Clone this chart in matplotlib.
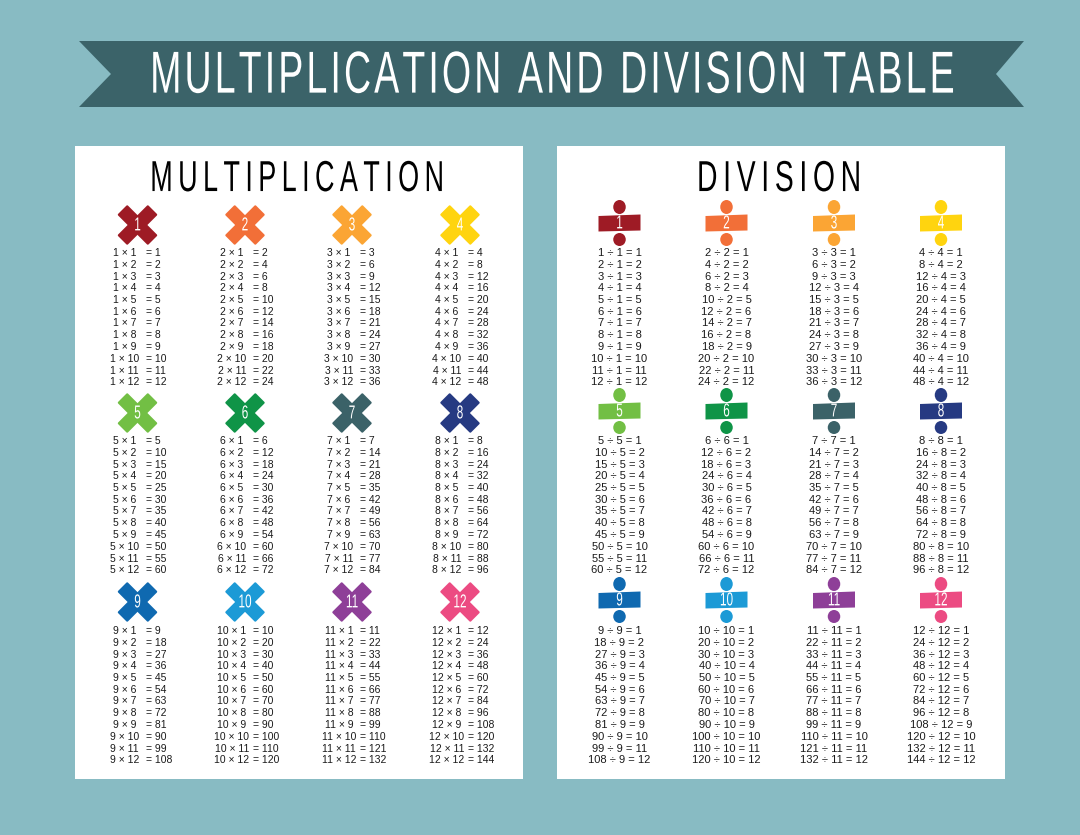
#!/usr/bin/env python3
import matplotlib
matplotlib.use('Agg')
import matplotlib.pyplot as plt
from matplotlib.patches import Polygon, Rectangle, Ellipse
from matplotlib.patheffects import AbstractPathEffect
from matplotlib.transforms import Affine2D

# ── Data ──────────────────────────────────────────────
page_title = "MULTIPLICATION AND DIVISION TABLE"
left_title = "MULTIPLICATION"
right_title = "DIVISION"

bases = [1, 2, 3, 4, 5, 6, 7, 8, 9, 10, 11, 12]
factors = [1, 2, 3, 4, 5, 6, 7, 8, 9, 10, 11, 12]
base_colors = ["#9E1B25", "#F26F38", "#FBA534", "#FFD40F",
               "#72BF44", "#0F9447", "#3B6268", "#263A82",
               "#0F69B0", "#1C9AD6", "#8E3F98", "#EC4B82"]
products = [
    [1, 2, 3, 4, 5, 6, 7, 8, 9, 10, 11, 12],
    [2, 4, 6, 8, 10, 12, 14, 16, 18, 20, 22, 24],
    [3, 6, 9, 12, 15, 18, 21, 24, 27, 30, 33, 36],
    [4, 8, 12, 16, 20, 24, 28, 32, 36, 40, 44, 48],
    [5, 10, 15, 20, 25, 30, 35, 40, 45, 50, 55, 60],
    [6, 12, 18, 24, 30, 36, 42, 48, 54, 60, 66, 72],
    [7, 14, 21, 28, 35, 42, 49, 56, 63, 70, 77, 84],
    [8, 16, 24, 32, 40, 48, 56, 64, 72, 80, 88, 96],
    [9, 18, 27, 36, 45, 54, 63, 72, 81, 90, 99, 108],
    [10, 20, 30, 40, 50, 60, 70, 80, 90, 100, 110, 120],
    [11, 22, 33, 44, 55, 66, 77, 88, 99, 110, 121, 132],
    [12, 24, 36, 48, 60, 72, 84, 96, 108, 120, 132, 144],
]

# ── Style ─────────────────────────────────────────────
BG = "#88BBC3"
BANNER = "#3B6369"
INK = "#1A1A1A"
plt.rcParams["font.family"] = ["Liberation Sans", "DejaVu Sans"]

# pixel layout
left_cols = [137.5, 245, 352, 460]
right_cols = [619.5, 726.5, 834, 941]
icon_rows = [225, 413, 602]
first_rows = [253, 441, 631]
ROW_STEP = 11.75

fig = plt.figure(figsize=(10.8, 8.35), dpi=100, facecolor=BG)
ax = fig.add_axes([0, 0, 1, 1])
ax.set_xlim(0, 1080)
ax.set_ylim(835, 0)
ax.axis("off")


class Stretch(AbstractPathEffect):
    """Squeeze or pull a text about its anchor, the hand lettering is tall and narrow."""

    def __init__(self, x, y, sx, sy):
        super().__init__()
        self.cx, self.cy = ax.transData.transform((x, y))
        self.sx, self.sy = sx, sy

    def draw_path(self, renderer, gc, tpath, affine, rgbFace=None):
        stretch = Affine2D().translate(-self.cx, -self.cy).scale(self.sx, self.sy).translate(self.cx, self.cy)
        renderer.draw_path(gc, tpath, affine + stretch, rgbFace)


def tall_text(x, y, s, color, size, sx, sy, z=2):
    ax.text(x, y, s, color=color, fontsize=size, ha="center", va="center", zorder=z,
            path_effects=[Stretch(x, y, sx, sy)])


def spaced(s, gap="\u200a"):
    return gap.join(s)


def draw_cross(cx, cy, color):
    r, w = 14.5, 6
    for sx in (1, -1):
        pts = [(cx - sx*(r+w*0.7), cy - r + w*0.7), (cx - sx*(r-w*0.7), cy - r - w*0.7),
               (cx + sx*(r+w*0.7), cy + r - w*0.7), (cx + sx*(r-w*0.7), cy + r + w*0.7)]
        ax.add_patch(Polygon(pts, closed=True, facecolor=color, edgecolor=color, lw=1.5,
                             joinstyle="round", zorder=3))


def draw_divide(cx, cy, color):
    pts = [(cx - 21, cy - 9), (cx + 21, cy - 10.5), (cx + 21, cy + 5.5), (cx - 21, cy + 6.5)]
    ax.add_patch(Polygon(pts, closed=True, color=color, lw=0, zorder=3))
    ax.add_patch(Ellipse((cx, cy - 18), 12.5, 14, color=color, lw=0, zorder=3))
    ax.add_patch(Ellipse((cx, cy + 14.5), 12.5, 13, color=color, lw=0, zorder=3))


# ── Banner and panels ─────────────────────────────────
ax.add_patch(Polygon([(79, 41), (1024, 41), (996, 74), (1024, 107), (79, 107), (111, 74)],
                     closed=True, color=BANNER, lw=0, zorder=1))
tall_text(552, 77, spaced(page_title), "white", 30, 0.9, 1.42)

ax.add_patch(Rectangle((75, 146), 448, 633, color="white", lw=0, zorder=1))
ax.add_patch(Rectangle((557, 146), 448, 633, color="white", lw=0, zorder=1))
tall_text(297, 180, spaced(left_title, "\u2009"), "black", 24, 0.81, 1.3)
tall_text(779, 180, spaced(right_title, "\u2009"), "black", 24, 0.85, 1.3)

# ── Tables ────────────────────────────────────────────
for i, (base, color) in enumerate(zip(bases, base_colors)):
    grp, col = divmod(i, 4)
    y_icon = icon_rows[grp]
    y0 = first_rows[grp]

    # multiplication
    cx = left_cols[col]
    draw_cross(cx, y_icon, color)
    tall_text(cx, y_icon, str(base), "white", 10, 0.85, 1.35, z=4)
    for r, (f, p) in enumerate(zip(factors, products[i])):
        y = y0 + r * ROW_STEP
        ax.text(cx - 13, y, f"{base} × {f}", color=INK, fontsize=7.5, ha="center", va="center", zorder=2)
        ax.text(cx + 8, y, f"= {p}", color=INK, fontsize=7.5, ha="left", va="center", zorder=2)

    # division
    cx = right_cols[col]
    draw_divide(cx, y_icon, color)
    tall_text(cx, y_icon - 2, str(base), "white", 10, 0.85, 1.35, z=4)
    for r, (f, p) in enumerate(zip(factors, products[i])):
        y = y0 + r * ROW_STEP
        ax.text(cx, y, f"{p} ÷ {base} = {f}", color=INK, fontsize=8, ha="center", va="center", zorder=2)

fig.savefig("out.png", dpi=100, facecolor=BG)
